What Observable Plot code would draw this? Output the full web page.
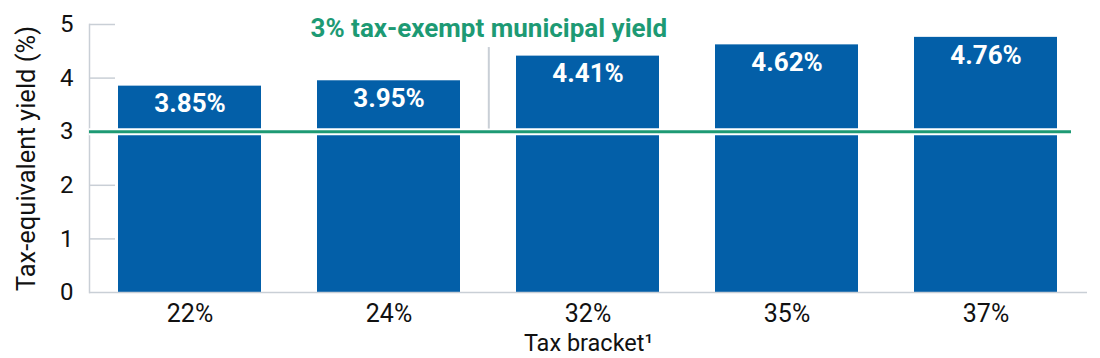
<!DOCTYPE html>
<html>
<head>
<meta charset="utf-8">
<script src="https://cdn.jsdelivr.net/npm/d3@7"></script>
<script src="https://cdn.jsdelivr.net/npm/@observablehq/plot@0.6"></script>
<style>
  html, body { margin: 0; padding: 0; background: #fff; }
  #chart svg { display: block; font-family: Roboto, "Noto Sans", sans-serif; }
</style>
</head>
<body>
<div id="chart"></div>
<script>
const brackets = ["22%", "24%", "32%", "35%", "37%"];
const yields = [3.85, 3.95, 4.41, 4.62, 4.76];
const yTicks = [0, 1, 2, 3, 4, 5];
const municipalYield = 3;
const municipalLabel = "3% tax-exempt municipal yield";
const yLabel = "Tax-equivalent yield (%)";
const xLabel = "Tax bracket¹";

const data = brackets.map((b, i) => ({bracket: b, value: yields[i], label: yields[i].toFixed(2) + "%"}));

const W = 1100, H = 358;
const mL = 89, mR = 13, mT = 24, mB = 66;
const step = (W - mL - mR) / brackets.length;

const blue = "#035fa8";
const green = "#1d9a74";
const gray = "#c9cfd6";

const chart = Plot.plot({
  width: W,
  height: H,
  marginLeft: mL,
  marginRight: mR,
  marginTop: mT,
  marginBottom: mB,
  style: {fontFamily: "Roboto, sans-serif", fontSize: "23px", color: "#111"},
  x: {domain: brackets, paddingInner: 0.28, paddingOuter: 0.14, axis: null},
  y: {domain: [0, 5], axis: null},
  marks: [
    Plot.ruleY(yTicks.filter(t => t > 0), {stroke: gray, strokeWidth: 1.5, insetRight: W - mL - mR - 26}),
    Plot.frame({anchor: "left", stroke: gray, strokeWidth: 1.5}),
    Plot.barY(data, {x: "bracket", y: "value", fill: blue}),
    Plot.ruleY([0], {stroke: gray, strokeWidth: 1.5}),
    Plot.ruleY([municipalYield], {stroke: "#fff", strokeWidth: 7, insetRight: 16}),
    Plot.ruleY([municipalYield], {stroke: green, strokeWidth: 3, insetRight: 16}),
    Plot.ruleX([brackets[1]], {y1: municipalYield + 0.05, y2: 4.57, stroke: gray, strokeWidth: 2, dx: step / 2}),
    Plot.text([municipalLabel], {x: () => brackets[1], y: () => 4.93, text: d => d, dx: step / 2, fill: green, fontSize: 26, fontWeight: 700, textAnchor: "middle", lineAnchor: "middle"}),
    Plot.text(data, {x: "bracket", y: "value", text: "label", fill: "#fff", fontSize: 26, fontWeight: 700, dy: 18, lineAnchor: "middle"}),
    Plot.axisY(yTicks, {tickSize: 0, tickPadding: 16, fontSize: 24, tickFormat: d => String(d), label: null}),
    Plot.axisX({tickSize: 0, tickPadding: 12, fontSize: 25, label: null}),
    Plot.text([yLabel], {frameAnchor: "left", text: d => d, rotate: -90, dx: -63, fontSize: 25.5, textAnchor: "middle", lineAnchor: "middle"}),
    Plot.text([xLabel], {frameAnchor: "bottom", text: d => d, dy: 51, fontSize: 23.5, textAnchor: "middle", lineAnchor: "middle"})
  ]
});
document.getElementById("chart").appendChild(chart);
</script>
</body>
</html>
